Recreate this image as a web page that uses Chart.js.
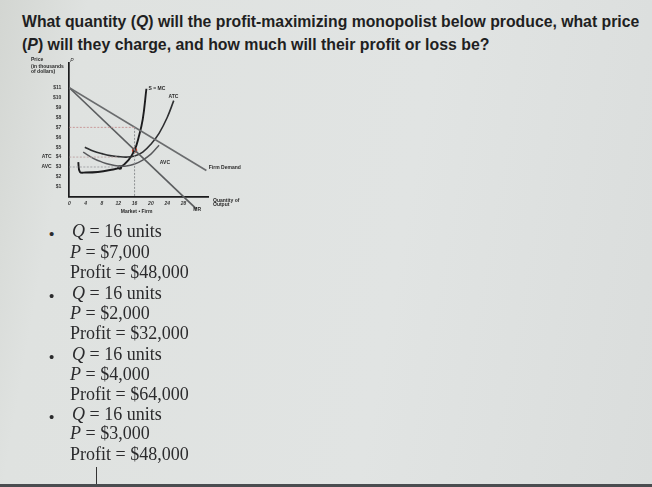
<!DOCTYPE html>
<html>
<head>
<meta charset="utf-8">
<script src="https://cdn.jsdelivr.net/npm/chart.js@4.4.1/dist/chart.umd.min.js"></script>
<style>
  html, body { margin: 0; padding: 0; }
  body {
    width: 652px; height: 487px; position: relative; overflow: hidden;
    background: linear-gradient(100deg, #d3d6d2 0%, #dfe2e0 12%, #e1e4e3 60%, #dadddc 100%);
  }
  .q { position: absolute; left: 22px; font-family: "Liberation Sans", Arial, sans-serif;
       font-weight: bold; color: #1f1f22; white-space: nowrap; }
  .ans { position: absolute; left: 70px; font-family: "Liberation Serif", "DejaVu Serif", serif;
         font-size: 18px; color: #2b2b2d; white-space: nowrap; line-height: 1; }
  .ans i { font-style: italic; }
  .dot { position: absolute; left: 49px; font-family: "Liberation Sans", sans-serif; font-size: 15px; color: #2b2b2d; line-height: 1; }
  #chartBox { position: absolute; left: 10px; top: 52px; width: 250px; height: 170px; filter: blur(0.3px); }
  .bottomBar { position: absolute; left: 0; right: 0; bottom: 0; height: 3px; background: #4a4d50; }
  .cursor { position: absolute; left: 96px; top: 467px; width: 1px; height: 17px; background: #333; }
</style>
</head>
<body>
<div class="q" id="q1" style="top:13px">What quantity (<i>Q</i>) will the profit-maximizing monopolist below produce, what price</div>
<div class="q" id="q2" style="top:36px">(<i>P</i>) will they charge, and how much will their profit or loss be?</div>

<div id="chartBox"><canvas id="monoChart" width="250" height="170"></canvas></div>

<div id="answers"></div>
<div class="cursor"></div>
<div class="bottomBar"></div>

<script>
// axis ticks
const qTicks = [0, 4, 8, 12, 16, 20, 24, 28];
const priceTicks = [1, 2, 3, 4, 5, 6, 7, 8, 9, 10, 11];

// curves (quantity, price in $ thousands)
const demandQ = [0, 33.6];
const demandP = [11, 2.65];
const mrQ = [0, 31.2];
const mrP = [11, -1.25];
const mcQ = [2.2, 2.6, 4, 7, 10, 12.4, 14.5, 16, 17, 18, 18.9];
const mcP = [3.5, 2.5, 2.45, 2.5, 2.7, 2.95, 3.7, 4.7, 6.0, 7.8, 10.9];
const atcQ = [3.8, 6, 8, 10, 12, 14, 16, 18, 20, 22, 24, 25.6];
const atcP = [5.0, 4.6, 4.35, 4.15, 4.05, 4.0, 4.1, 4.5, 5.3, 6.4, 8.0, 9.7];
const avcQ = [3.4, 6, 8, 10, 12, 14, 16, 18, 20, 22];
const avcP = [4.5, 3.85, 3.5, 3.25, 3.1, 3.1, 3.3, 3.7, 4.3, 5.2];

// profit-max point and reference levels
const profitQ = 16;
const priceLevel = 7;
const atcLevel = 4;
const avcLevel = 3;
const mrMcP = 4.7;
const shutQ = 12.4;
const shutP = 2.95;

// answer choices
const choiceQ = [16, 16, 16, 16];
const choiceP = ['$7,000', '$2,000', '$4,000', '$3,000'];
const choiceProfit = ['$48,000', '$32,000', '$64,000', '$48,000'];

function pts(xs, ys) {
    return xs.map((x, i) => ({ x: x, y: ys[i] }));
}

// fit question lines to the photographed width
function fitLine(id, target) {
    const el = document.getElementById(id);
    el.style.fontSize = '16px';
    const w = el.offsetWidth;
    el.style.fontSize = (16 * target / w) + 'px';
}
fitLine('q1', 618);
fitLine('q2', 468);

// answer text
const answers = document.getElementById('answers');
const rowTops = [222, 243, 263, 284, 304, 324, 345, 365, 385, 405, 424, 445];
let html = '';
for (let i = 0; i < choiceQ.length; i++) {
    const t = rowTops[i * 3];
    html += `<div class="dot" style="top:${t + 4}px">&#8226;</div>`;
    html += `<div class="ans" style="top:${t}px;left:72px"><i>Q</i> = ${choiceQ[i]} units</div>`;
    html += `<div class="ans" style="top:${rowTops[i * 3 + 1]}px"><i>P</i> = ${choiceP[i]}</div>`;
    html += `<div class="ans" style="top:${rowTops[i * 3 + 2]}px">Profit = ${choiceProfit[i]}</div>`;
}
answers.innerHTML = html;

const labelFont = 'bold 5px "Liberation Sans", Arial, sans-serif';

// curve labels and axis captions
const annotations = {
    id: 'annotations',
    afterDatasetsDraw(chart) {
        const ctx = chart.ctx;
        const xs = chart.scales.x;
        const ys = chart.scales.y;
        const area = chart.chartArea;
        ctx.save();
        ctx.fillStyle = '#2a2a2a';
        ctx.font = labelFont;
        ctx.textBaseline = 'middle';
        ctx.textAlign = 'left';
        ctx.fillText('S = MC', xs.getPixelForValue(19.4), ys.getPixelForValue(10.9));
        ctx.fillText('ATC', xs.getPixelForValue(24.3), ys.getPixelForValue(10.1));
        ctx.fillText('AVC', xs.getPixelForValue(22.2), ys.getPixelForValue(3.4));
        ctx.fillText('Firm Demand', xs.getPixelForValue(34.2), ys.getPixelForValue(2.95));
        ctx.fillText('MR', xs.getPixelForValue(30.4), ys.getPixelForValue(-1.3));
        ctx.fillText('Quantity of', area.right + 5, area.bottom + 3.5);
        ctx.fillText('Output', area.right + 5, area.bottom + 8);
        ctx.textAlign = 'center';
        ctx.fillText('Market \u2022 Firm', xs.getPixelForValue(16.5), area.bottom + 15);
        ctx.textAlign = 'left';
        ctx.fillText('Price', 21, 8);
        ctx.fillText('(in thousands', 21, 14.5);
        ctx.fillText('of dollars)', 21, 20);
        ctx.font = 'italic 5px "Liberation Sans", Arial, sans-serif';
        ctx.fillText('P', area.left + 1, area.top - 2);
        ctx.restore();
    }
};

const ctx = document.getElementById('monoChart').getContext('2d');

const monoChart = new Chart(ctx, {
    type: 'scatter',
    data: {
        datasets: [
            {
                label: 'Price line',
                data: pts([0, profitQ], [priceLevel, priceLevel]),
                showLine: true, borderColor: '#c99a9a', borderWidth: 1, borderDash: [2, 1.5],
                pointRadius: 0,
            },
            {
                label: 'Q line',
                data: pts([profitQ, profitQ], [priceLevel, 0]),
                showLine: true, borderColor: '#8c8f92', borderWidth: 1, borderDash: [2, 1.5],
                pointRadius: 0,
            },
            {
                label: 'ATC line',
                data: pts([0, 12], [atcLevel, atcLevel]),
                showLine: true, borderColor: '#bfa7a7', borderWidth: 1, borderDash: [2, 1.5],
                pointRadius: 0,
            },
            {
                label: 'AVC line',
                data: pts([0, shutQ], [avcLevel, avcLevel]),
                showLine: true, borderColor: '#a4a4a8', borderWidth: 1, borderDash: [2, 1.5],
                pointRadius: 0,
            },
            {
                label: 'Firm Demand',
                data: pts(demandQ, demandP),
                showLine: true, borderColor: '#6a6c6e', borderWidth: 1.7,
                pointRadius: 0,
            },
            {
                label: 'MR',
                data: pts(mrQ, mrP),
                showLine: true, borderColor: '#5b5d5f', borderWidth: 1.7,
                pointRadius: 0, clip: false,
            },
            {
                label: 'AVC',
                data: pts(avcQ, avcP),
                showLine: true, borderColor: '#58595c', borderWidth: 1.4, tension: 0.4,
                pointRadius: 0,
            },
            {
                label: 'ATC',
                data: pts(atcQ, atcP),
                showLine: true, borderColor: '#2e2f31', borderWidth: 1.6, tension: 0.4,
                pointRadius: 0,
            },
            {
                label: 'S = MC',
                data: pts(mcQ, mcP),
                showLine: true, borderColor: '#1c1c1e', borderWidth: 1.9, tension: 0.4,
                pointRadius: 0,
            },
            {
                label: 'Shutdown',
                data: pts([shutQ], [shutP]),
                pointRadius: 2.3, backgroundColor: '#1a1a1a', borderWidth: 0,
            },
            {
                label: 'MR = MC',
                data: pts([profitQ], [mrMcP]),
                pointRadius: 2.6, backgroundColor: '#c8402c', borderWidth: 0,
            },
        ]
    },
    options: {
        responsive: false,
        animation: false,
        layout: { padding: { left: 0, top: 8.8, right: 52, bottom: 0 } },
        plugins: {
            legend: { display: false },
            tooltip: { enabled: false },
        },
        scales: {
            x: {
                type: 'linear',
                min: 0,
                max: 34,
                afterFit: function (scale) { scale.height = 25.3; },
                afterBuildTicks: function (scale) { scale.ticks = qTicks.map(v => ({ value: v })); },
                grid: { display: false, drawTicks: false },
                border: { display: true, color: '#1b1b1d', width: 1.7 },
                ticks: {
                    padding: 4,
                    color: '#333',
                    font: { size: 5, weight: 'bold', style: 'italic', family: 'Liberation Sans' },
                    autoSkip: false,
                    maxRotation: 0,
                },
            },
            y: {
                type: 'linear',
                min: 0,
                max: 13.5,
                afterFit: function (scale) { scale.width = 59.3; },
                afterBuildTicks: function (scale) { scale.ticks = priceTicks.map(v => ({ value: v })); },
                grid: { display: false, drawTicks: false },
                border: { display: true, color: '#1b1b1d', width: 1.7 },
                ticks: {
                    padding: 8,
                    color: '#333',
                    font: { size: 5, weight: 'bold', family: 'Liberation Sans' },
                    autoSkip: false,
                    callback: function (value) {
                        if (value === atcLevel) return 'ATC   $' + value;
                        if (value === avcLevel) return 'AVC   $' + value;
                        return '$' + value;
                    }
                },
            }
        }
    },
    plugins: [annotations]
});
</script>
</body>
</html>
